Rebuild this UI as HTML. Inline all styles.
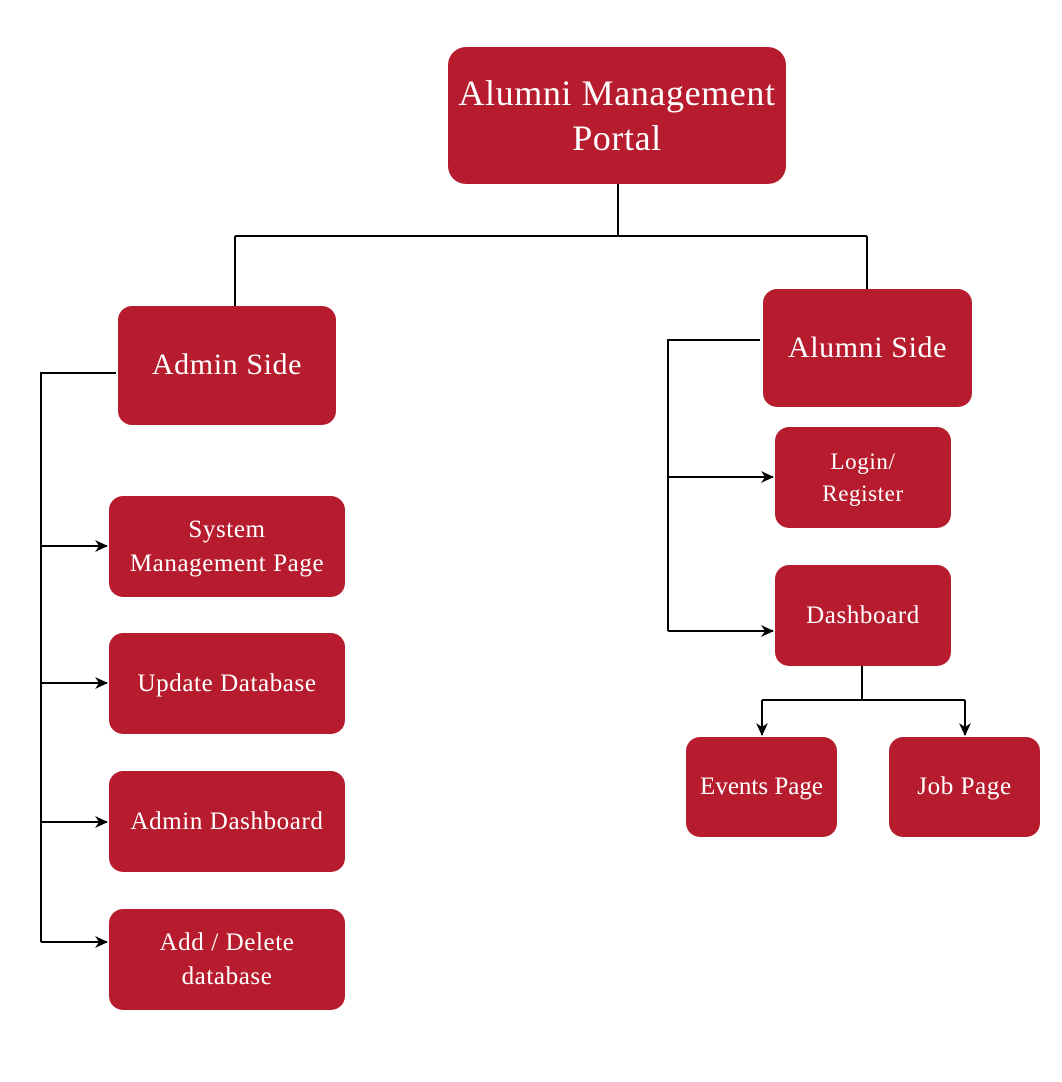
<!DOCTYPE html>
<html><head><meta charset="utf-8"><style>
body{margin:0;width:1062px;height:1082px;background:#fff;position:relative;overflow:hidden;font-family:"Liberation Serif",serif;}
.b{position:absolute;background:#b71c2e;border-radius:14px;color:#fff;display:flex;align-items:center;justify-content:center;text-align:center;line-height:1.35;font-size:25px;letter-spacing:0.6px;white-space:nowrap;}
svg{position:absolute;left:0;top:0;}
</style></head><body>
<svg width="1062" height="1082">
<defs><marker id="a" markerWidth="14" markerHeight="14" refX="12" refY="6" orient="auto" markerUnits="userSpaceOnUse"><path d="M0,0 L13,6 L0,12 L4,6z" fill="#000"/></marker></defs>
<g stroke="#000" stroke-width="2" fill="none">
<path d="M618,184 V236 M235,236 H867 M235,236 V306 M867,236 V289"/>
<path d="M116,373 H41 V942"/>
<path d="M41,546 H107" marker-end="url(#a)"/>
<path d="M41,683 H107" marker-end="url(#a)"/>
<path d="M41,822 H107" marker-end="url(#a)"/>
<path d="M41,942 H107" marker-end="url(#a)"/>
<path d="M760,340 H668 V631"/>
<path d="M668,477 H773" marker-end="url(#a)"/>
<path d="M668,631 H773" marker-end="url(#a)"/>
<path d="M862,666 V700 M762,700 H965"/>
<path d="M762,700 V735" marker-end="url(#a)"/>
<path d="M965,700 V735" marker-end="url(#a)"/>
</g></svg>
<div class="b" style="left:448px;top:47px;width:338px;height:137px;font-size:36px;border-radius:18px;line-height:1.25">Alumni Management<br>Portal</div>
<div class="b" style="left:118px;top:306px;width:218px;height:119px;font-size:30px">Admin Side</div>
<div class="b" style="left:763px;top:289px;width:209px;height:118px;font-size:30px">Alumni Side</div>
<div class="b" style="left:109px;top:496px;width:236px;height:101px">System<br>Management Page</div>
<div class="b" style="left:109px;top:633px;width:236px;height:101px">Update Database</div>
<div class="b" style="left:109px;top:771px;width:236px;height:101px">Admin Dashboard</div>
<div class="b" style="left:109px;top:909px;width:236px;height:101px">Add / Delete<br>database</div>
<div class="b" style="left:775px;top:427px;width:176px;height:101px;font-size:23px">Login/<br>Register</div>
<div class="b" style="left:775px;top:565px;width:176px;height:101px">Dashboard</div>
<div class="b" style="left:686px;top:737px;width:151px;height:100px;letter-spacing:0">Events Page</div>
<div class="b" style="left:889px;top:737px;width:151px;height:100px">Job Page</div>
</body></html>
